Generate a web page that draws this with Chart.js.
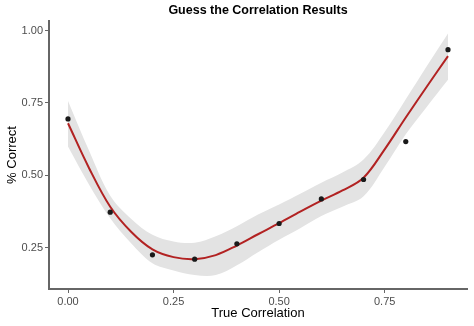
<!DOCTYPE html>
<html lang="en">
<head>
  <meta charset="UTF-8">
  <title>Guess the Correlation Results</title>
  <script src="https://cdn.jsdelivr.net/npm/chart.js"></script>
  <style>
    body {
      margin: 0;
      background: #fff;
    }

    #wrap {
      width: 474px;
      height: 326px;
    }
  </style>
</head>
<body>

<div id="wrap"><canvas id="corrChart" width="474" height="326"></canvas></div>

<script>
  // Observed points
  const trueCorr = [0, 0.1, 0.2, 0.3, 0.4, 0.5, 0.6, 0.7, 0.8, 0.9];
  const pctCorrect = [0.695, 0.373, 0.226, 0.211, 0.264, 0.334, 0.419, 0.486, 0.617, 0.934];

  // Smoothed fit and its confidence band
  const fitX = [0, 0.05, 0.1, 0.15, 0.2, 0.25, 0.3, 0.35, 0.4, 0.45, 0.5, 0.55, 0.6, 0.65, 0.7, 0.75, 0.8, 0.85, 0.9];
  const fitY = [0.68, 0.525, 0.392, 0.305, 0.245, 0.218, 0.211, 0.225, 0.258, 0.297, 0.335, 0.375, 0.413, 0.448, 0.492, 0.59, 0.70, 0.807, 0.912];
  const bandUpper = [0.757, 0.585, 0.43, 0.35, 0.295, 0.272, 0.268, 0.29, 0.325, 0.365, 0.40, 0.437, 0.475, 0.51, 0.555, 0.65, 0.763, 0.878, 0.99];
  const bandLower = [0.60, 0.468, 0.352, 0.265, 0.197, 0.172, 0.156, 0.156, 0.19, 0.235, 0.278, 0.318, 0.36, 0.392, 0.428, 0.53, 0.642, 0.737, 0.83];

  const xTicks = [0, 0.25, 0.5, 0.75];
  const yTicks = [0.25, 0.5, 0.75, 1.0];

  const toXY = (xs, ys) => xs.map((x, i) => ({ x: x, y: ys[i] }));

  const axisColor = '#666666';
  const tickText = '#4d4d4d';
  const fontFamily = '"Liberation Sans", Arial, sans-serif';

  const ctx = document.getElementById('corrChart').getContext('2d');
  const chart = new Chart(ctx, {
    type: 'line',
    data: {
      datasets: [
        {
          label: 'Observed',
          data: toXY(trueCorr, pctCorrect),
          showLine: false,
          pointRadius: 2.6,
          pointBackgroundColor: '#1a1a1a',
          pointBorderWidth: 0,
          order: 0
        },
        {
          label: 'Fit',
          data: toXY(fitX, fitY),
          borderColor: '#b22222',
          borderWidth: 2,
          pointRadius: 0,
          tension: 0.35,
          fill: false,
          order: 1
        },
        {
          label: 'Upper',
          data: toXY(fitX, bandUpper),
          borderWidth: 0,
          borderColor: 'rgba(0,0,0,0)',
          pointRadius: 0,
          tension: 0.35,
          backgroundColor: '#e3e3e3',
          fill: '+1',
          order: 2
        },
        {
          label: 'Lower',
          data: toXY(fitX, bandLower),
          borderWidth: 0,
          borderColor: 'rgba(0,0,0,0)',
          pointRadius: 0,
          tension: 0.35,
          fill: false,
          order: 3
        }
      ]
    },
    options: {
      responsive: false,
      animation: false,
      layout: {
        padding: { top: 0, right: 7, bottom: 0, left: 0 }
      },
      plugins: {
        legend: { display: false },
        tooltip: { enabled: false },
        title: {
          display: true,
          fullSize: false,
          text: 'Guess the Correlation Results',
          color: '#000',
          font: { family: fontFamily, size: 12.5, weight: 'bold' },
          padding: { top: 3, bottom: 3 }
        }
      },
      scales: {
        x: {
          type: 'linear',
          min: -0.045,
          max: 0.945,
          afterBuildTicks: scale => {
            scale.ticks = xTicks.map(v => ({ value: v }));
          },
          afterFit: scale => {
            scale.height = 37;
          },
          grid: {
            drawOnChartArea: false,
            drawTicks: true,
            tickLength: 4,
            tickWidth: 1,
            tickColor: axisColor
          },
          border: { display: true, color: axisColor, width: 2 },
          ticks: {
            padding: 2,
            color: tickText,
            font: { family: fontFamily, size: 11 },
            maxRotation: 0,
            callback: v => v.toFixed(2)
          },
          title: {
            display: true,
            text: 'True Correlation',
            color: '#000',
            font: { family: fontFamily, size: 13 },
            padding: { top: 0, bottom: 4.5 }
          }
        },
        y: {
          min: 0.108,
          max: 1.033,
          afterBuildTicks: scale => {
            scale.ticks = yTicks.map(v => ({ value: v }));
          },
          afterFit: scale => {
            scale.width = 49;
          },
          grid: {
            drawOnChartArea: false,
            drawTicks: true,
            tickLength: 4,
            tickWidth: 1,
            tickColor: axisColor
          },
          border: { display: true, color: axisColor, width: 2 },
          ticks: {
            padding: 2,
            color: tickText,
            font: { family: fontFamily, size: 11 },
            callback: v => v.toFixed(2)
          },
          title: {
            display: true,
            text: '% Correct',
            color: '#000',
            font: { family: fontFamily, size: 13 },
            padding: { top: 5, bottom: 0 }
          }
        }
      }
    }
  });
</script>

</body>
</html>
